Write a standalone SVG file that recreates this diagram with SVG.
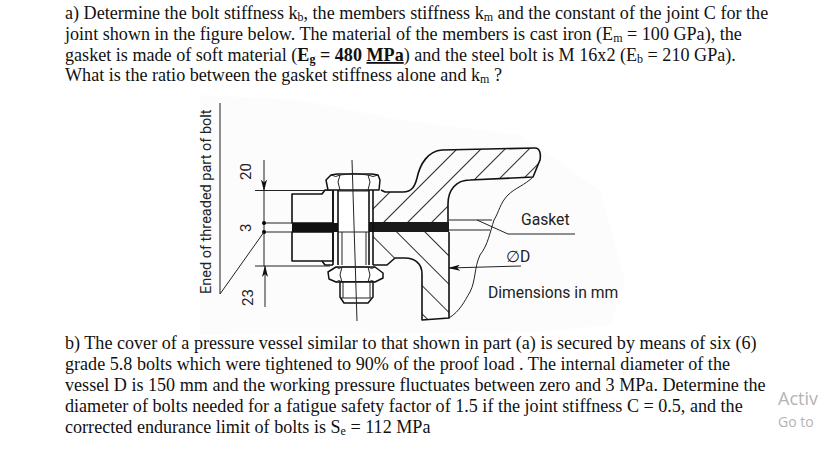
<svg xmlns="http://www.w3.org/2000/svg" width="821" height="460" viewBox="0 0 821 460">
<style>
.t{font-family:"Liberation Serif","Times New Roman",serif;font-size:18.13px;fill:#111}
.b{font-weight:bold}
.s{font-size:12px}
.l{font-family:Roboto,"Liberation Sans",sans-serif;fill:#222}
.o{fill:none;stroke:#111;stroke-width:1.6;stroke-linejoin:round}
.n{fill:none;stroke:#222;stroke-width:1}
.w{fill:#fff;stroke:#111;stroke-width:1.5;stroke-linejoin:round}
.wm{font-family:"Open Sans","Noto Sans",sans-serif;fill:#b4b4b4}
</style>
<defs>
<pattern id="up" width="17" height="17" patternUnits="userSpaceOnUse" patternTransform="rotate(-45) translate(0 3)"><rect width="17" height="1" fill="#333"/></pattern>
<pattern id="down" width="20" height="20" patternUnits="userSpaceOnUse" patternTransform="rotate(45) translate(0 3)"><rect width="20" height="1" fill="#333"/></pattern>
<marker id="ah" markerWidth="12" markerHeight="6" refX="11" refY="3" orient="auto" markerUnits="userSpaceOnUse"><path d="M0 0L12 3L0 6L3 3Z" fill="#111"/></marker>
</defs>
<rect width="821" height="460" fill="#fff"/>
<path d="M200 95L300 100L400 120L520 135L600 190L625 280L610 325L540 332L200 335Z" fill="#fcfcfc"/>

<g id="text-a">
<text class="t" x="65" y="19">a) Determine the bolt stiffness k<tspan class="s" dy="2">b</tspan><tspan dy="-2">, the members stiffness k</tspan><tspan class="s" dy="2">m</tspan><tspan dy="-2"> and the constant of the joint C for the</tspan></text>
<text class="t" x="65" y="40">joint shown in the figure below. The material of the members is cast iron (E<tspan class="s" dy="2">m</tspan><tspan dy="-2"> = 100 GPa), the</tspan></text>
<text class="t" x="65" y="61">gasket is made of soft material (<tspan class="b">E</tspan><tspan class="b s" dy="2">g</tspan><tspan class="b" dy="-2"> = 480 </tspan><tspan class="b" text-decoration="underline">MPa</tspan>) and the steel bolt is M 16x2 (E<tspan class="s" dy="2">b</tspan><tspan dy="-2"> = 210 GPa).</tspan></text>
<text class="t" x="65" y="81">What is the ratio between the gasket stiffness alone and k<tspan class="s" dy="2">m</tspan><tspan dy="-2"> ?</tspan></text>
</g>

<g id="upper-member">
<path d="M292 194H322L325 190H333V223H292Z" fill="url(#up)" class="o"/>
<path d="M373 190H381L385 192H403C412 192 415 186 417 178C420 164 428 151 442 150L535 148C540 148 541 154 540 160L533 177L470 180C456 180 448 190 448 204V223H373Z" fill="url(#up)"/>
<path d="M381 190L385 192H403C412 192 415 186 417 178C420 164 428 151 442 150L535 148C540 148 541 154 540 160L533 177L470 180C456 180 448 190 448 204V223" class="o"/>
</g>
<g id="lower-member">
<path d="M292 232H333V261H292Z" fill="url(#down)" class="o"/>
<path d="M373 232H449V318L422 320V274C422 263 414 258 405 258H395L387 265H373Z" fill="url(#down)"/>
<path d="M449 232V318L422 320V274C422 263 414 258 405 258H395L387 265H373" class="o"/>
<path d="M322 261L325 265H333" class="o"/>
</g>
<g id="gasket">
<rect x="292" y="223" width="46" height="9" fill="#111"/>
<rect x="369" y="222" width="80" height="10" fill="#1a1a1a"/>
</g>
<path id="break-line" d="M533 177C525 185 515 188 508 195C500 203 499 212 494 220C490 232 488 245 480 255C474 268 476 280 470 292C464 302 460 311 449 318" class="n"/>

<g id="bolt">
<rect x="338" y="191" width="31" height="41" fill="#fff"/>
<path d="M333 190V265M338 190V265M369 190V265M373 190V265" class="o"/>
<path d="M338 191H369M338 232H369M342 232V265M366 232V265" class="n"/>
<path d="M328 190L326 180L331 175L337 174H372L378 175L380 180L379 190Z" class="w"/>
<path d="M340 175L338 182L340 190M368 175L370 182L368 190M331 175Q336 178 340 175M340 175Q354 172 368 175M368 175Q373 178 378 175" class="n"/>
<path d="M336 267H375L383 273V278L375 282H336L329 279L328 272Z" class="w"/>
<path d="M342 267L340 275L342 282M368 267L370 275L368 282M336 267Q339 270 342 267M342 267H368M368 267Q372 270 375 267M336 282Q339 279 342 282M342 282H368M368 282Q372 279 375 282" class="n"/>
<path d="M340 282V297L344 303H368L373 297V282Z" class="w"/>
<path d="M343 282V298M370 282V298M341 298H372" class="n"/>
<path d="M352 160L357 321" class="n"/>
</g>

<g id="connectors">
<path d="M264 160V190.500" class="n" marker-end="url(#ah)"/>
<path d="M264 190.500V266" class="n"/>
<path d="M265 307V266" class="n" marker-end="url(#ah)"/>
<path d="M255 190.500H333M264 223H292M264 232H292M255 266H330" class="n"/>
<circle cx="264" cy="223" r="2"/><circle cx="264" cy="232" r="2"/>
<path d="M264 232L220 294V103" class="n"/>
<path d="M449 220H492M449 230H490M477 220L508 234H575" class="n"/>
<path d="M521 266L449 268" class="n" marker-end="url(#ah)"/>
</g>

<g id="labels">
<text class="l" font-size="14.5" transform="translate(211 294) rotate(-90)">Ened of threaded part of bolt</text>
<text class="l" font-size="15" transform="translate(251 180) rotate(-90)">20</text>
<text class="l" font-size="15" transform="translate(251 232) rotate(-90)">3</text>
<text class="l" font-size="15" transform="translate(253 306) rotate(-90)">23</text>
<text class="l" font-size="15.7" x="521" y="225">Gasket</text>
<text class="l" font-size="15.7" x="506" y="262">∅D</text>
<text class="l" font-size="15.7" x="488" y="298">Dimensions in mm</text>
</g>

<g id="text-b">
<text class="t" x="65" y="349">b) The cover of a pressure vessel similar to that shown in part (a) is secured by means of six (6)</text>
<text class="t" x="65" y="370">grade 5.8 bolts which were tightened to 90% of the proof load . The internal diameter of the</text>
<text class="t" x="65" y="391">vessel D is 150 mm and the working pressure fluctuates between zero and 3 MPa. Determine the</text>
<text class="t" x="65" y="412">diameter of bolts needed for a fatigue safety factor of 1.5 if the joint stiffness C = 0.5, and the</text>
<text class="t" x="65" y="433">corrected endurance limit of bolts is S<tspan class="s" dy="2">e</tspan><tspan dy="-2"> = 112 MPa</tspan></text>
</g>
<g id="watermark">
<text class="wm" x="778" y="405" font-size="18">Activ</text>
<text class="wm" x="778" y="427" font-size="14">Go to</text>
</g>
</svg>
